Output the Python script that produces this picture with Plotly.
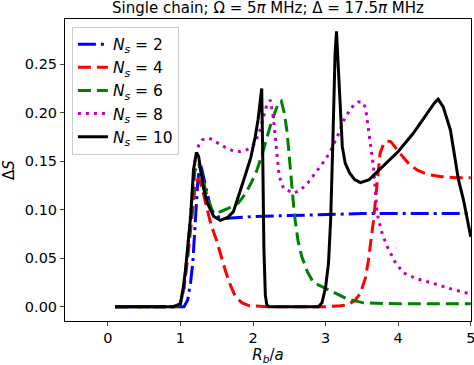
import plotly.graph_objects as go

# ---- data ----
x_n2 = [0.1, 1.05, 1.1, 1.14, 1.17, 1.21, 1.24, 1.27, 1.3, 1.35, 1.42, 1.51, 1.6, 1.8, 2.0, 2.5, 3.0, 3.5, 4.0, 5.0]
y_n2 = [0.0, 0.0, 0.007, 0.025, 0.045, 0.089, 0.13, 0.148, 0.14, 0.123, 0.1, 0.093, 0.091, 0.092, 0.093, 0.094, 0.095, 0.096, 0.096, 0.096]

x_n4 = [0.1, 0.95, 1.0, 1.05, 1.1, 1.15, 1.2, 1.25, 1.3, 1.36, 1.42, 1.5, 1.55, 1.62, 1.69, 1.76, 1.85, 1.95, 2.2,
        3.0, 3.2, 3.3, 3.4, 3.48, 3.55, 3.59, 3.66, 3.71, 3.75, 3.8, 3.85, 3.9, 3.95, 4.0, 4.07, 4.15, 4.26, 4.35, 4.44,
        4.6, 4.8, 5.0]
y_n4 = [0.0, 0.0, 0.004, 0.02, 0.05, 0.09, 0.122, 0.133, 0.122, 0.103, 0.085, 0.068, 0.055, 0.037, 0.022, 0.01, 0.004, 0.001, 0.0,
        0.0, 0.001, 0.002, 0.006, 0.014, 0.03, 0.048, 0.089, 0.124, 0.158, 0.168, 0.171, 0.17, 0.165, 0.16, 0.154, 0.147,
        0.141, 0.138, 0.136, 0.134, 0.133, 0.133]

x_n6 = [0.1, 0.95, 1.0, 1.05, 1.1, 1.15, 1.2, 1.25, 1.3, 1.37, 1.45, 1.55, 1.65, 1.8, 1.9, 1.97, 2.05, 2.13, 2.2, 2.24,
        2.3, 2.35, 2.39, 2.43, 2.47, 2.5, 2.53, 2.57, 2.62, 2.67, 2.75, 2.83, 2.97, 3.11, 3.3, 3.52, 4.0, 4.5, 5.0]
y_n6 = [0.0, 0.0, 0.003, 0.02, 0.055, 0.1, 0.14, 0.148, 0.135, 0.113, 0.097, 0.098, 0.101, 0.107, 0.117, 0.127, 0.14,
        0.158, 0.177, 0.187, 0.2, 0.21, 0.212, 0.2, 0.18, 0.155, 0.125, 0.095, 0.068, 0.052, 0.036, 0.025, 0.02, 0.015,
        0.008, 0.004, 0.003, 0.003, 0.003]

x_n8 = [0.1, 0.95, 1.0, 1.05, 1.1, 1.15, 1.2, 1.25, 1.3, 1.38, 1.45, 1.55, 1.65, 1.75, 1.83, 1.92, 2.01, 2.08, 2.14,
        2.19, 2.24, 2.28, 2.32, 2.36, 2.42, 2.5, 2.56, 2.65, 2.75, 2.89, 3.0, 3.07, 3.17, 3.25, 3.35, 3.45, 3.51, 3.55,
        3.59, 3.63, 3.66, 3.71, 3.78, 3.85, 3.95, 4.07, 4.25, 4.44, 4.7, 5.0]
y_n8 = [0.0, 0.0, 0.003, 0.02, 0.06, 0.11, 0.15, 0.166, 0.172, 0.174, 0.172, 0.167, 0.163, 0.16, 0.16, 0.162, 0.167,
        0.178, 0.195, 0.208, 0.213, 0.195, 0.165, 0.135, 0.122, 0.119, 0.117, 0.12, 0.127, 0.141, 0.152, 0.161, 0.177,
        0.192, 0.205, 0.211, 0.211, 0.205, 0.182, 0.16, 0.144, 0.096, 0.075, 0.062, 0.047, 0.035, 0.029, 0.025, 0.019,
        0.013]

x_n10 = [0.1, 0.9, 1.0, 1.04, 1.07, 1.1, 1.14, 1.18, 1.22, 1.25, 1.28, 1.32, 1.37, 1.46, 1.55, 1.65, 1.73, 1.83, 1.9,
         1.97, 2.03, 2.07, 2.1, 2.12, 2.135, 2.15, 2.17, 2.19, 2.22, 2.3, 2.9, 2.95, 3.0, 3.04, 3.07, 3.1, 3.13, 3.15,
         3.17, 3.2, 3.23, 3.27, 3.33, 3.4, 3.48, 3.6, 3.8, 4.0, 4.2, 4.4, 4.5, 4.55, 4.62, 4.72, 4.83, 4.9, 5.0]
y_n10 = [0.0, 0.0, 0.003, 0.02, 0.038, 0.06, 0.092, 0.141, 0.159, 0.155, 0.141, 0.122, 0.107, 0.093, 0.089, 0.092,
         0.098, 0.12, 0.137, 0.154, 0.175, 0.193, 0.213, 0.225, 0.15, 0.06, 0.012, 0.002, 0.0, 0.0, 0.0, 0.004, 0.02,
         0.045, 0.09, 0.17, 0.26, 0.284, 0.255, 0.2, 0.165, 0.148, 0.138, 0.131, 0.128, 0.131, 0.145, 0.16, 0.178, 0.2,
         0.21, 0.214, 0.206, 0.182, 0.131, 0.11, 0.072]

labels = ["<i>N<sub>s</sub></i> = 2", "<i>N<sub>s</sub></i> = 4", "<i>N<sub>s</sub></i> = 6",
          "<i>N<sub>s</sub></i> = 8", "<i>N<sub>s</sub></i> = 10"]
x_ticks = [0, 1, 2, 3, 4, 5]
y_ticks = [0.0, 0.05, 0.10, 0.15, 0.20, 0.25]

series = [
    (x_n2, y_n2, "#0000ff", "18px,5px,3px,5px"),
    (x_n4, y_n4, "#ff0000", "13px,6px"),
    (x_n6, y_n6, "#008000", "13px,6px"),
    (x_n8, y_n8, "#bf00bf", "3px,5px"),
    (x_n10, y_n10, "#000000", "solid"),
]

fig = go.Figure()
for (xs, ys, col, dash), name in zip(series, labels):
    fig.add_trace(go.Scatter(x=xs, y=ys, mode="lines", name=name,
                             line=dict(color=col, width=3, dash=dash)))

font_family = "DejaVu Sans"
fig.update_layout(
    width=474, height=365,
    margin=dict(l=65, r=3, t=19, b=44, autoexpand=False),
    paper_bgcolor="white", plot_bgcolor="white",
    font=dict(family=font_family, size=14, color="black"),
    title=dict(text="Single chain; Ω = 5<i>π</i> MHz; Δ = 17.5<i>π</i> MHz",
               x=(65 + 471) / 2 / 474, xanchor="center", y=1 - 8 / 365, yanchor="middle",
               font=dict(size=15, family=font_family), automargin=False),
    showlegend=True,
    legend=dict(x=0.017, y=0.975, xanchor="left", yanchor="top",
                bgcolor="rgba(255,255,255,0.8)", bordercolor="#cccccc", borderwidth=1,
                font=dict(size=15.5, family=font_family)),
    xaxis=dict(range=[-0.59, 5.003], tickvals=x_ticks, ticks="outside", ticklen=4, tickwidth=1,
               showline=True, linecolor="black", linewidth=1, mirror=True, showgrid=False, zeroline=False,
               tickfont=dict(size=14.5), automargin=False, ticklabeloverflow="allow",
               title=dict(text="<i>R<sub>b</sub></i>/<i>a</i>", font=dict(size=15), standoff=2)),
    yaxis=dict(range=[-0.0147, 0.2966], tickvals=y_ticks, tickformat=".2f", ticks="outside", ticklen=4,
               tickwidth=1, showline=True, linecolor="black", linewidth=1, mirror=True, showgrid=False,
               zeroline=False, tickfont=dict(size=14.5), automargin=False,
               title=dict(text="Δ<i>S</i>", font=dict(size=15), standoff=8)),
)

fig.write_html("out.html", config={"displayModeBar": False},
               post_script="document.body.style.margin='0px';document.body.style.overflow='hidden';")
